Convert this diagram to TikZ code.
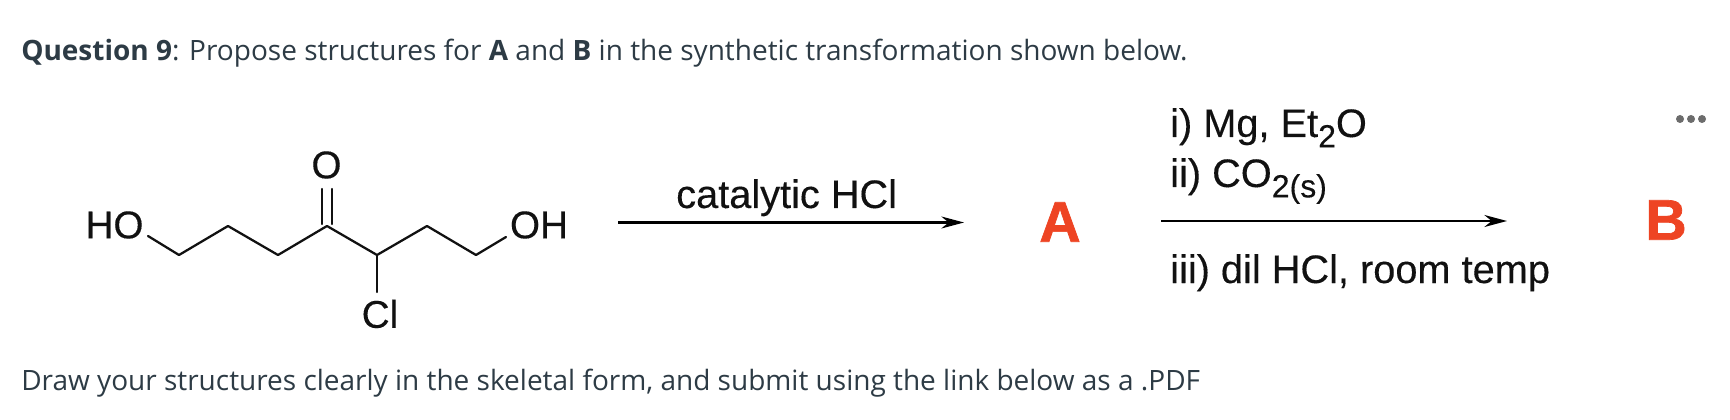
\documentclass[tikz,border=0pt]{standalone}
\usepackage{fontspec}
\setmainfont{Liberation Sans}
\newfontfamily\qfont{Open Sans}
\newfontfamily\reagfont[FakeBold=0.25]{Liberation Sans}
\newfontfamily\letfont[FakeBold=1.2]{Liberation Sans Bold}
\usetikzlibrary{arrows.meta}
\definecolor{hdr}{HTML}{2D3B45}
\definecolor{lbl}{HTML}{EE4423}
\definecolor{inkc}{HTML}{111111}
\newcommand{\lowidx}[1]{\raisebox{-0.26em}{\fontsize{24pt}{26pt}\selectfont #1}}
\tikzset{
  px/.style={x=0.75pt,y=-0.75pt},
  qtext/.style={inner sep=0,anchor=base west,text=hdr,font=\qfont\fontsize{21pt}{26pt}\selectfont},
  atom/.style={inner sep=0,text=inkc,font=\reagfont\fontsize{29pt}{32pt}\selectfont},
  reagent/.style={inner sep=0,anchor=base west,text=inkc,font=\reagfont\fontsize{29.8pt}{32pt}\selectfont},
  letter/.style={inner sep=0,text=lbl,font=\letfont\fontsize{43pt}{46pt}\selectfont},
  bond/.style={draw=inkc,line width=1.7pt,line join=round,line cap=round},
  rxn/.style={draw=black,line width=1.7pt,-{Stealth[length=17pt,width=9pt]}},
  dot/.style={circle,fill=gray!85!black,inner sep=0,minimum size=6pt}
}
\begin{document}
\begin{tikzpicture}[px]
\useasboundingbox[fill=white] (0,0) rectangle (1730,420);
\node[qtext] (title) at (21,61) {\textbf{Question 9}: Propose structures for \textbf{A} and \textbf{B} in the synthetic transformation shown below.};
\node[qtext] (foot) at (21,390) {Draw your structures clearly in the skeletal form, and submit using the link below as a .PDF};
% molecule
\node[atom] (HO) at (114.5,225) {HO};
\node[atom] (OH) at (539,225) {OH};
\node[atom] (O) at (326.5,165) {O};
\node[atom] (Cl) at (380,314) {Cl};
\coordinate (c0) at (148,236);
\coordinate (c1) at (179,255);
\coordinate (c2) at (228,226);
\coordinate (c3) at (278,255);
\coordinate (c4) at (327,226);
\coordinate (c5) at (377,255);
\coordinate (c6) at (427,226);
\coordinate (c7) at (476,255);
\coordinate (c8) at (506,237);
\coordinate (cl) at (377,292);
\coordinate (o1) at (322,189);
\coordinate (o2) at (332,189);
\coordinate (d1) at (322,224);
\coordinate (d2) at (332,224);
\draw[bond] (c0)--(c1)--(c2)--(c3)--(c4)--(c5)--(c6)--(c7)--(c8);
\draw[bond] (c5)--(cl);
\draw[bond] (d1)--(o1);
\draw[bond] (d2)--(o2);
% first step
\coordinate (a1s) at (618,222.5);
\coordinate (a1e) at (964,222.5);
\draw[rxn] (a1s)--(a1e);
\node[reagent] (cat) at (676,208) {catalytic HCl};
\node[letter] (A) at (1060,222) {A};
% second step
\coordinate (a2s) at (1161,221);
\coordinate (a2e) at (1507,221);
\draw[rxn] (a2s)--(a2e);
\node[reagent] (r1) at (1170,137) {i) Mg, Et\lowidx{2}O};
\node[reagent] (r2) at (1170,187) {ii) CO\lowidx{2(s)}};
\node[reagent] (r3) at (1170,283) {iii) dil HCl, room temp};
\node[letter] (B) at (1666,220) {B};
% menu dots
\node[dot] (m1) at (1680,119) {};
\node[dot] (m2) at (1691,119) {};
\node[dot] (m3) at (1702,119) {};
\end{tikzpicture}
\end{document}
